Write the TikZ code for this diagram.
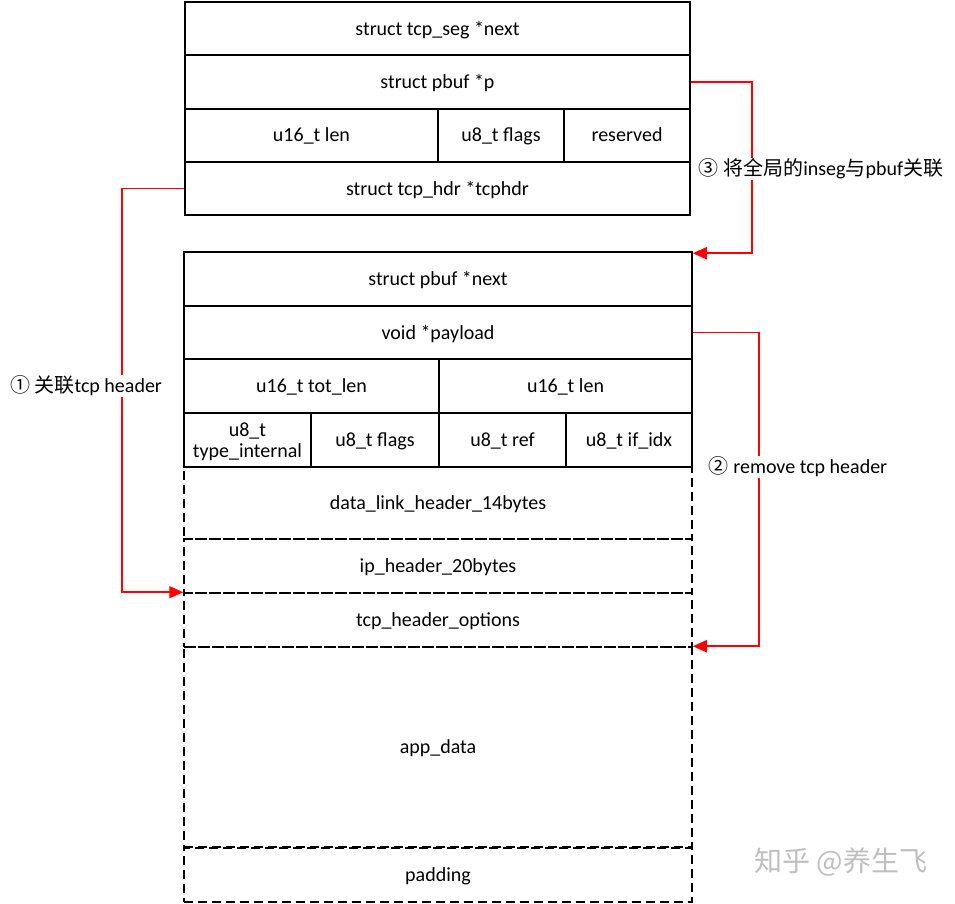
\documentclass[tikz,border=0pt]{standalone}
\usepackage{fontspec}
\setmainfont{Carlito}
\newfontfamily\cjk{Noto Sans CJK SC}
\usetikzlibrary{arrows.meta,positioning}

\begin{document}
\begin{tikzpicture}[x=1pt,y=-1pt,
  field/.style={draw,line width=1.5pt,inner sep=0pt,minimum height=53pt,align=center,font=\fontsize{20}{21}\selectfont,text depth=1pt},
  spare/.style={field,dash pattern=on 9pt off 5pt},
  link/.style={draw=red,line width=1.8pt,-{Triangle[length=14pt,width=12pt]}},
  note/.style={fill=white,inner sep=1pt,font=\fontsize{20}{24}\selectfont}]
  \useasboundingbox (0,0) rectangle (955,904);
  % struct tcp_seg
  \node[field,minimum width=505pt] (seg_next) at (437.5,28.5) {struct tcp\_seg *next};
  \node[field,minimum width=505pt] (seg_p) at (437.5,82) {struct pbuf *p};
  \node[field,minimum width=253pt] (seg_len) at (311.5,135.5) {u16\_t len};
  \node[field,minimum width=126pt] (seg_flags) at (501,135.5) {u8\_t flags};
  \node[field,minimum width=126pt] (seg_rsv) at (627,135.5) {reserved};
  \node[field,minimum width=505pt] (seg_hdr) at (437.5,188.5) {struct tcp\_hdr *tcphdr};
  % struct pbuf
  \node[field,minimum width=508pt,minimum height=54pt] (pb_next) at (438,279) {struct pbuf *next};
  \node[field,minimum width=508pt] (pb_payload) at (438,332.5) {void *payload};
  \node[field,minimum width=255pt,minimum height=54pt] (pb_totlen) at (311.5,386) {u16\_t tot\_len};
  \node[field,minimum width=253pt,minimum height=54pt] (pb_len) at (565.5,386) {u16\_t len};
  \node[field,minimum width=127pt,minimum height=54pt,text depth=-4pt] (pb_type) at (247.5,440) {u8\_t\\type\_internal};
  \node[field,minimum width=128pt,minimum height=54pt] (pb_flags) at (375,440) {u8\_t flags};
  \node[field,minimum width=127pt,minimum height=54pt] (pb_ref) at (502.5,440) {u8\_t ref};
  \node[field,minimum width=126pt,minimum height=54pt] (pb_ifidx) at (629,440) {u8\_t if\_idx};
  % packet data
  \node[spare,minimum width=508pt,minimum height=72pt] (pk_link) at (438,503) {data\_link\_header\_14bytes};
  \node[spare,minimum width=508pt,minimum height=54pt] (pk_ip) at (438,566) {ip\_header\_20bytes};
  \node[spare,minimum width=508pt,minimum height=54pt] (pk_tcp) at (438,620) {tcp\_header\_options};
  \node[spare,minimum width=508pt,minimum height=200pt] (pk_app) at (438,747) {app\_data};
  \node[spare,minimum width=508pt,minimum height=54pt] (pk_pad) at (438,875) {padding};
  % links
  \draw[link] (seg_hdr.west) -- ++(-62,0) |- (pk_tcp.north west);
  \draw[link] (pb_payload.east) -- ++(66,0) |- (pk_app.north east);
  \draw[link] (seg_p.east) -- ++(61,0) |- ([yshift=-2pt]pb_next.north east);
  \node[note] (lbl_one) at (86,386) {{\cjk ①} {\cjk 关联}tcp header};
  \node[note] (lbl_two) at (798,467) {{\cjk ②} remove tcp header};
  \node[note] (lbl_three) at (821,169) {{\cjk ③} {\cjk 将全局的}inseg{\cjk 与}pbuf{\cjk 关联}};
  \node[text=black!25,font=\cjk\fontsize{28}{30}\selectfont] (mark) at (841,862) {知乎 @养生飞};
\end{tikzpicture}
\end{document}
